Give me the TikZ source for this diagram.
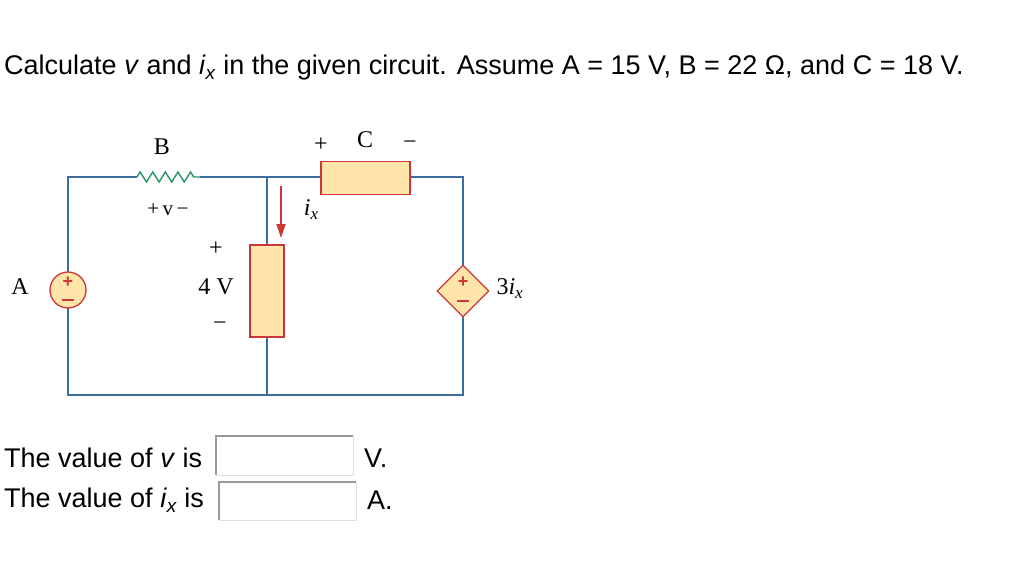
\documentclass[tikz,border=0pt]{standalone}
\usepackage{fontspec}
\setmainfont{Liberation Sans}
\newfontfamily\tms{Liberation Serif}
\usetikzlibrary{decorations.pathmorphing,arrows.meta,shapes.geometric}
\definecolor{wire}{RGB}{60,110,160}
\definecolor{fillc}{RGB}{255,229,170}
\definecolor{redc}{RGB}{205,55,55}
\definecolor{resc}{RGB}{40,150,100}
\newcommand{\subx}{{\fontsize{19}{19}\selectfont\textit{x}}}
\newcommand{\six}{\textit{i}\raisebox{-4pt}{\fontsize{17}{17}\selectfont\textit{x}}}
\begin{document}
\begin{tikzpicture}[x=1pt,y=-1pt,
  w/.style={draw=wire,line width=1.3pt},
  el/.style={draw=redc,fill=fillc,line width=1.3pt},
  lab/.style={font=\tms\fontsize{24}{24}\selectfont,text=black},
  txt/.style={font=\fontsize{27}{27}\selectfont,anchor=west,inner sep=0pt}]
\useasboundingbox (0,0) rectangle (1024,575);
\node[txt] (q) at (4,68) {Calculate \textit{v} and \textit{i}\raisebox{-5pt}{\subx} in the given circuit. Assume A = 15 V, B = 22 Ω, and C = 18 V.};
% wires
\coordinate (tl) at (68,177); \coordinate (bl) at (68,395);
\coordinate (tm) at (267,177); \coordinate (bm) at (267,395);
\coordinate (tr) at (463,177); \coordinate (br) at (463,395);
\coordinate (r1) at (137,177); \coordinate (r2) at (200,177);
\draw[w] (r1) -- (tl) -- (68,272);
\draw[w] (68,308) -- (bl) -- (br) -- (463,316);
\draw[w] (463,266) -- (tr) -- (410,177);
\draw[w] (r2) -- (321,177);
\draw[w] (tm) -- (267,245);
\draw[w] (267,337) -- (bm);
\draw[resc,line width=1.4pt,decorate,decoration={zigzag,segment length=12.6pt,amplitude=5pt}] (r1) -- (r2);
% elements
\node[el,circle,minimum size=36pt,inner sep=0pt] (A) at (68,290) {};
\node[text=redc,font=\bfseries\fontsize{18}{18}\selectfont] (Ap) at (68,282) {+};
\draw[redc,line width=1.5pt] (62,300) -- (74,300);
\node[el,minimum width=34pt,minimum height=92pt,inner sep=0pt] (V4) at (267,291) {};
\node[el,minimum width=89pt,minimum height=33pt,inner sep=0pt] (C) at (365.5,178) {};
\node[el,diamond,minimum width=52pt,minimum height=52pt,inner sep=0pt,shape aspect=1] (D) at (463,291) {};
\node[text=redc,font=\bfseries\fontsize{18}{18}\selectfont] (Dp) at (463,282) {+};
\draw[redc,line width=1.5pt] (457,301) -- (469,301);
% arrow
\coordinate (a1) at (281,186); \coordinate (a2) at (281,238);
\draw[redc,line width=1.4pt,-{Triangle[length=14pt,width=9pt]}] (a1) -- (a2);
% labels
\node[lab] (lA) at (20,287) {A};
\node[lab] (lB) at (162,147) {B};
\node[lab,font=\tms\fontsize{21}{21}\selectfont] (lv) at (168,210) {+\,v\,−};
\node[lab] (lC) at (365,140) {C};
\node[lab] (lCp) at (321,145) {+};
\node[lab] (lCm) at (410,145) {−};
\node[lab] (lix) at (311,210) {\six};
\node[lab] (l4p) at (216,249) {+};
\node[lab] (l4) at (216,287) {4 V};
\node[lab] (l4m) at (220,326) {−};
\node[lab,anchor=west] (l3) at (493,289) {3\six};
% answer area
\node[txt] (t1) at (4,458) {The value of \textit{v} is};
\draw[gray!80,line width=1.5pt] (216,475) -- (216,436) -- (353,436);
\draw[gray!25,line width=1pt] (353,436) -- (353,475) -- (216,475);
\node[txt] (u1) at (364,458) {V.};
\node[txt] (t2) at (4,500) {The value of \textit{i}\raisebox{-5pt}{\subx} is};
\draw[gray!80,line width=1.5pt] (219,520) -- (219,482) -- (356,482);
\draw[gray!25,line width=1pt] (356,482) -- (356,520) -- (219,520);
\node[txt] (u2) at (367,500) {A.};
\end{tikzpicture}
\end{document}
